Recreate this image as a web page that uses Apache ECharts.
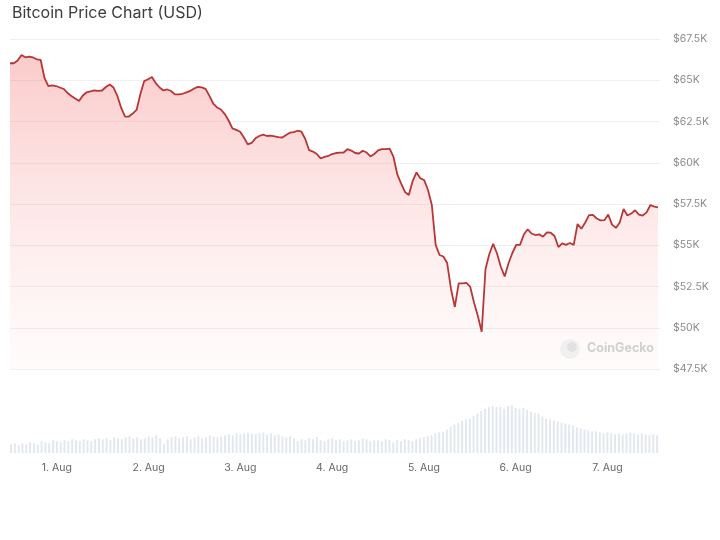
<!DOCTYPE html>
<html>
<head>
<meta charset="utf-8">
<script src="https://cdn.jsdelivr.net/npm/echarts@6/dist/echarts.min.js"></script>
<style>
html,body{margin:0;padding:0;background:#fff;}
#c{width:720px;height:540px;}
</style>
</head>
<body>
<div id="c"></div>
<script>
// ---- DATA ----
const titleText = 'Bitcoin Price Chart (USD)';
const startTime = [2024, 6, 31, 12]; // 31 Jul 2024 12:00, hourly points
const monthNames = ['Jan','Feb','Mar','Apr','May','Jun','Jul','Aug','Sep','Oct','Nov','Dec'];
const priceUSD = [
 66030,66030,66200,66530,66390,66430,66380,66270,66230,65140,
 64650,64690,64650,64560,64470,64230,64050,63890,63740,64080,
 64270,64330,64380,64360,64380,64590,64740,64560,64050,63320,
 62800,62800,62980,63200,64170,64950,65060,65200,64830,64560,
 64380,64440,64350,64140,64140,64180,64270,64350,64500,64600,
 64570,64480,64050,63590,63350,63230,62950,62560,62080,61990,
 61880,61530,61110,61200,61480,61620,61700,61620,61640,61600,
 61550,61530,61680,61820,61860,61940,61880,61440,60760,60680,
 60530,60260,60360,60410,60530,60590,60610,60620,60820,60740,
 60590,60560,60730,60620,60380,60530,60750,60830,60820,60850,
 60350,59290,58740,58230,58050,58890,59410,59060,58950,58350,
 57440,55020,54410,54320,53920,52350,51260,52690,52690,52720,
 52490,51530,50710,49760,53560,54470,55080,54500,53680,53110,
 53910,54530,55020,55020,55650,55970,55710,55620,55660,55520,
 55780,55760,55560,54890,55110,55020,55140,55020,56290,56000,
 56380,56830,56840,56620,56510,56520,56860,56250,56050,56380,
 57200,56800,56920,57120,56860,56800,56990,57440,57340,57300
];
const volume = [
 9,10,8,10,9,11,10,9,12,11,10,13,12,11,13,12,14,13,12,14,13,12,14,15,
 14,15,13,16,15,14,16,17,15,16,14,15,17,16,18,15,9,14,16,17,15,16,17,14,
 16,17,15,16,18,17,16,17,18,19,18,20,19,20,21,20,19,20,21,19,20,18,19,17,
 16,17,15,12,14,13,15,14,16,13,12,14,15,13,14,12,13,14,12,13,15,14,12,13,
 13,12,14,13,11,13,12,14,13,12,14,15,16,17,18,20,21,22,24,27,29,31,33,34,
 35,38,40,43,45,47,48,47,47,45,48,49,46,45,46,44,42,41,40,37,35,34,33,32,
 31,30,29,28,26,25,24,23,22,22,21,20,21,20,19,20,19,20,21,20,19,20,19,18,
 19,18
];
const yTicks = {min: 47500, max: 67500, step: 2500};

// ---- BUILD ----
const HOUR = 3600000;
const t0 = new Date(startTime[0], startTime[1], startTime[2], startTime[3]).getTime();
const priceData = priceUSD.map((v, i) => [t0 + i * HOUR, v]);
const volData = volume.map((v, i) => [t0 + i * HOUR, v]);
const xMin = t0;
const xMax = t0 + 169.5 * HOUR;
const fmtDay = v => { const d = new Date(v); return d.getDate() + '. ' + monthNames[d.getMonth()]; };

const chart = echarts.init(document.getElementById('c'), null, {renderer: 'canvas'});
chart.setOption({
  animation: false,
  backgroundColor: '#fff',
  textStyle: {fontFamily: 'Inter, "Noto Sans", sans-serif'},
  title: {
    text: titleText, left: 7, top: 0,
    textStyle: {fontSize: 16, fontWeight: 'normal', color: '#3c3c3c', fontFamily: 'Inter, sans-serif'}
  },
  grid: [
    {left: 10, right: 60, top: 39, bottom: 171},
    {left: 10, right: 60, top: 400, bottom: 87}
  ],
  xAxis: [
    {type: 'time', gridIndex: 0, min: xMin, max: xMax,
     axisLine: {show: false}, axisTick: {show: false}, axisLabel: {show: false}, splitLine: {show: false}},
    {type: 'time', gridIndex: 1, min: xMin, max: xMax,
     minInterval: 24 * HOUR, maxInterval: 24 * HOUR,
     axisLine: {show: false}, axisTick: {show: false}, splitLine: {show: false},
     axisLabel: {formatter: fmtDay, color: '#666', fontSize: 10.5, margin: 9,
                 showMinLabel: false, showMaxLabel: false, hideOverlap: false}}
  ],
  yAxis: [
    {type: 'value', gridIndex: 0, position: 'right', min: yTicks.min, max: yTicks.max, interval: yTicks.step,
     axisLine: {show: false}, axisTick: {show: false},
     splitLine: {lineStyle: {color: '#efefef', width: 1}},
     axisLabel: {margin: 13, color: '#8a8a8a', fontSize: 10.5,
                 formatter: v => '$' + (v / 1000) + 'K'}},
    {type: 'value', gridIndex: 1, min: 0, max: 54, show: false}
  ],
  series: [
    {type: 'line', xAxisIndex: 0, yAxisIndex: 0, data: priceData, symbol: 'none',
     lineStyle: {color: '#b83636', width: 1.8},
     areaStyle: {origin: 'start', color: new echarts.graphic.LinearGradient(0, 0, 0, 1, [
        {offset: 0, color: 'rgba(245,120,120,0.55)'},
        {offset: 1, color: 'rgba(250,170,170,0.05)'}
     ])}},
    {type: 'bar', xAxisIndex: 1, yAxisIndex: 1, data: volData, barWidth: 2,
     itemStyle: {color: '#e3e8ef'}}
  ],
  graphic: [
    {type: 'circle', shape: {cx: 570, cy: 349, r: 10}, style: {fill: '#f0f0f0'}, z: 10},
    {type: 'circle', shape: {cx: 572, cy: 347, r: 5}, style: {fill: '#e2e2e2'}, z: 11},
    {type: 'text', left: 587, top: 342, z: 10,
     style: {text: 'CoinGecko', fill: '#d0d0d0', fontSize: 12.5, fontWeight: 'bold', fontFamily: 'Inter, sans-serif'}}
  ]
});
</script>
</body>
</html>
